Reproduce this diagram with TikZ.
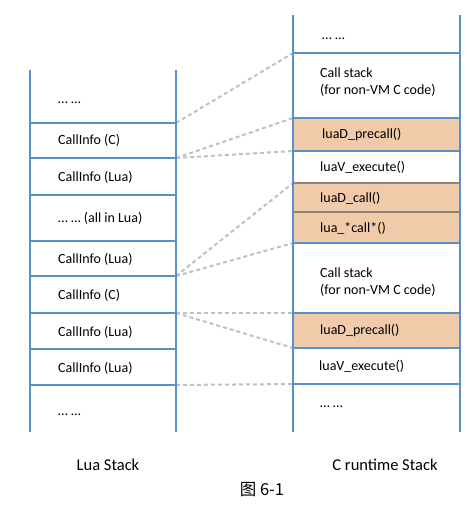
\documentclass[tikz,border=0pt]{standalone}
\usepackage{fontspec}
\setmainfont{Carlito}
\newfontfamily\cjkfont{Noto Sans CJK SC}
\definecolor{stackblue}{HTML}{5B8FC9}
\definecolor{callorange}{HTML}{EFCBA9}
\definecolor{linkgray}{HTML}{BCC1C9}
\definecolor{celledge}{HTML}{8E8279}
\begin{document}
\begin{tikzpicture}[x=1pt,y=-1pt,
    wall/.style={stackblue, line width=2.4pt},
    link/.style={linkgray, line width=2pt, dash pattern=on 4pt off 3pt},
    hot/.style={fill=callorange, draw=celledge, line width=1.2pt},
    cell/.style={anchor=west, inner sep=0pt, align=left, font=\fontsize{14}{16.5}\selectfont},
    caption/.style={inner sep=0pt, font=\fontsize{16.5}{19}\selectfont}]
    \useasboundingbox (0,0) rectangle (474,523);

    % Orange frames (C functions)
    \foreach \ya/\yb in {118/151, 183/212, 212/243, 313/348}
        \filldraw[hot] (293,\ya) rectangle (460,\yb);

    % Boundary points
    \coordinate (lua1) at (176,123);
    \coordinate (lua2) at (176,158);
    \coordinate (lua3) at (176,276);
    \coordinate (lua4) at (176,313);
    \coordinate (lua5) at (176,385);
    \coordinate (crt1) at (293,53);
    \coordinate (crt2) at (293,118);
    \coordinate (crt3) at (293,151);
    \coordinate (crt4) at (293,183);
    \coordinate (crt5) at (293,243);
    \coordinate (crt6) at (293,313);
    \coordinate (crt7) at (293,348);
    \coordinate (crt8) at (293,384);

    % Dashed links
    \draw[link] (lua1) -- (crt1);
    \draw[link] (lua2) -- (crt2);
    \draw[link] (lua2) -- (crt3);
    \draw[link] (lua3) -- (crt4);
    \draw[link] (lua3) -- (crt5);
    \draw[link] (lua4) -- (crt6);
    \draw[link] (lua4) -- (crt7);
    \draw[link] (lua5) -- (crt8);

    % Lua stack
    \draw[wall] (30,70) -- (30,432);
    \draw[wall] (176,70) -- (176,432);
    \foreach \y in {123,158,195,241,276,313,349,385}
        \draw[wall] (30,\y) -- (176,\y);

    % C runtime stack
    \draw[wall] (293,15) -- (293,432);
    \draw[wall] (460,15) -- (460,432);
    \foreach \y in {53,118,151,243,313,348,384}
        \draw[wall] (293,\y) -- (460,\y);

    % Lua stack entries
    \node[cell] (luatop) at (58,103) {\dots\ \dots};
    \node[cell] (cic1) at (58,140) {CallInfo (C)};
    \node[cell] (cilua1) at (58,177) {CallInfo (Lua)};
    \node[cell] (alllua) at (58,218) {\dots\ \dots\ (all in Lua)};
    \node[cell] (cilua2) at (58,259) {CallInfo (Lua)};
    \node[cell] (cic2) at (58,295) {CallInfo (C)};
    \node[cell] (cilua3) at (58,332) {CallInfo (Lua)};
    \node[cell] (cilua4) at (58,368) {CallInfo (Lua)};
    \node[cell] (luabottom) at (58,415) {\dots\ \dots};

    % C runtime stack entries
    \node[cell] (ctop) at (322,39) {\dots\ \dots};
    \node[cell] (cstack1) at (320,82) {Call stack\\(for non-VM C code)};
    \node[cell] (precall1) at (322,135) {luaD\_precall()};
    \node[cell] (execute1) at (320,167) {luaV\_execute()};
    \node[cell] (dcall) at (320,198) {luaD\_call()};
    \node[cell] (apicall) at (320,228) {lua\_*call*()};
    \node[cell] (cstack2) at (320,282) {Call stack\\(for non-VM C code)};
    \node[cell] (precall2) at (320,331) {luaD\_precall()};
    \node[cell] (execute2) at (319,366) {luaV\_execute()};
    \node[cell] (cbottom) at (320,407) {\dots\ \dots};

    % Captions
    \node[caption] (luacap) at (108,465) {Lua Stack};
    \node[caption] (crtcap) at (385,465) {C runtime Stack};
    \node[caption] (figcap) at (262,490) {\cjkfont 图 6-1};
\end{tikzpicture}
\end{document}
